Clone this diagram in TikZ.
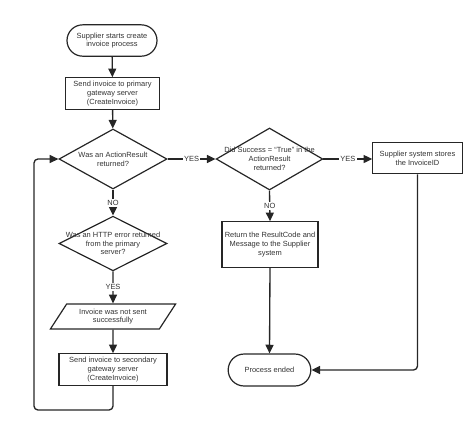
\documentclass[tikz,border=0pt]{standalone}
\usepackage{fontspec}
\setmainfont{Liberation Sans}
\usetikzlibrary{shapes.geometric,shapes.misc,arrows.meta,positioning}
\begin{document}
\begin{tikzpicture}[x=0.75pt,y=-0.75pt,
  every node/.style={font=\fontsize{5.6}{6.6}\selectfont, text=black!80},
  base/.style={draw=black!85, line width=0.9pt, inner sep=0pt, align=center},
  term/.style={base, rounded rectangle, minimum height=23.5pt},
  proc/.style={base, rectangle, minimum height=23.5pt},
  dia/.style={base, diamond},
  para/.style={base, trapezium, trapezium left angle=53, trapezium right angle=127, trapezium stretches=true},
  txt/.style={align=center, inner sep=0pt},
  conn/.style={draw=black!85, line width=1pt, -{Triangle[length=6.5pt,width=6pt]}},
  lab/.style={fill=white, inner sep=1pt}
]
\useasboundingbox (0,0) rectangle (474,426);

\node[term, minimum width=67.5pt] (start) at (112,40.5) {Supplier starts create\\invoice process};
\node[proc, minimum width=70pt] (b1) at (112.5,93.5) {Send invoice to primary\\gateway server\\(CreateInvoice)};
\node[dia, minimum width=81pt, minimum height=45pt] (d1) at (113,159) {};
\node[txt] at (d1) {Was an ActionResult\\returned?};
\node[dia, minimum width=80pt, minimum height=46.5pt] (d2) at (269.5,159) {};
\node[txt] at (d2) {Did Success = “True” in the\\ActionResult\\returned?};
\node[proc, minimum width=67pt] (b3) at (417.5,158) {Supplier system stores\\the InvoiceID};
\node[proc, minimum width=72pt, minimum height=34pt] (ret) at (270,244.5) {Return the ResultCode and\\Message to the Supplier\\system};
\node[term, minimum width=62pt, minimum height=24pt] (end) at (269.5,370) {Process ended};
\node[dia, minimum width=81pt, minimum height=41pt] (d3) at (113,243.5) {};
\node[txt] at (d3) {Was an HTTP error returned\\from the primary\\server?};
\node[para, minimum width=94.5pt, minimum height=18.75pt] (par) at (113,316.5) {Invoice was not sent\\successfully};
\node[proc, minimum width=81pt] (b2) at (113,369.5) {Send invoice to secondary\\gateway server\\(CreateInvoice)};

\coordinate (lb) at (113,410);
\coordinate (ll) at (34,410);
\coordinate (lt) at (34,159);

\draw[conn] (start) -- (b1);
\draw[conn] (b1) -- (d1);
\draw[conn] (d1.east) -- node[lab] {YES} (d2.west);
\draw[conn] (d2.east) -- node[lab] {YES} (d2.east -| b3.west);
\draw[conn] (d2.south) -- node[lab] {NO} (ret.north);
\draw[conn] (ret.south) -- (end.north);
\draw[conn, rounded corners=3pt] (b3.south) |- (end.east);
\draw[conn] (d1.south) -- node[lab] {NO} (d3.north);
\draw[conn] (d3.south) -- node[lab] {YES} (par.north);
\draw[conn] (par.south) -- (b2.north);
\draw[conn, rounded corners=3pt] (b2.south) -- (lb) -- (ll) -- (lt) -- (d1.west);
\end{tikzpicture}
\end{document}
